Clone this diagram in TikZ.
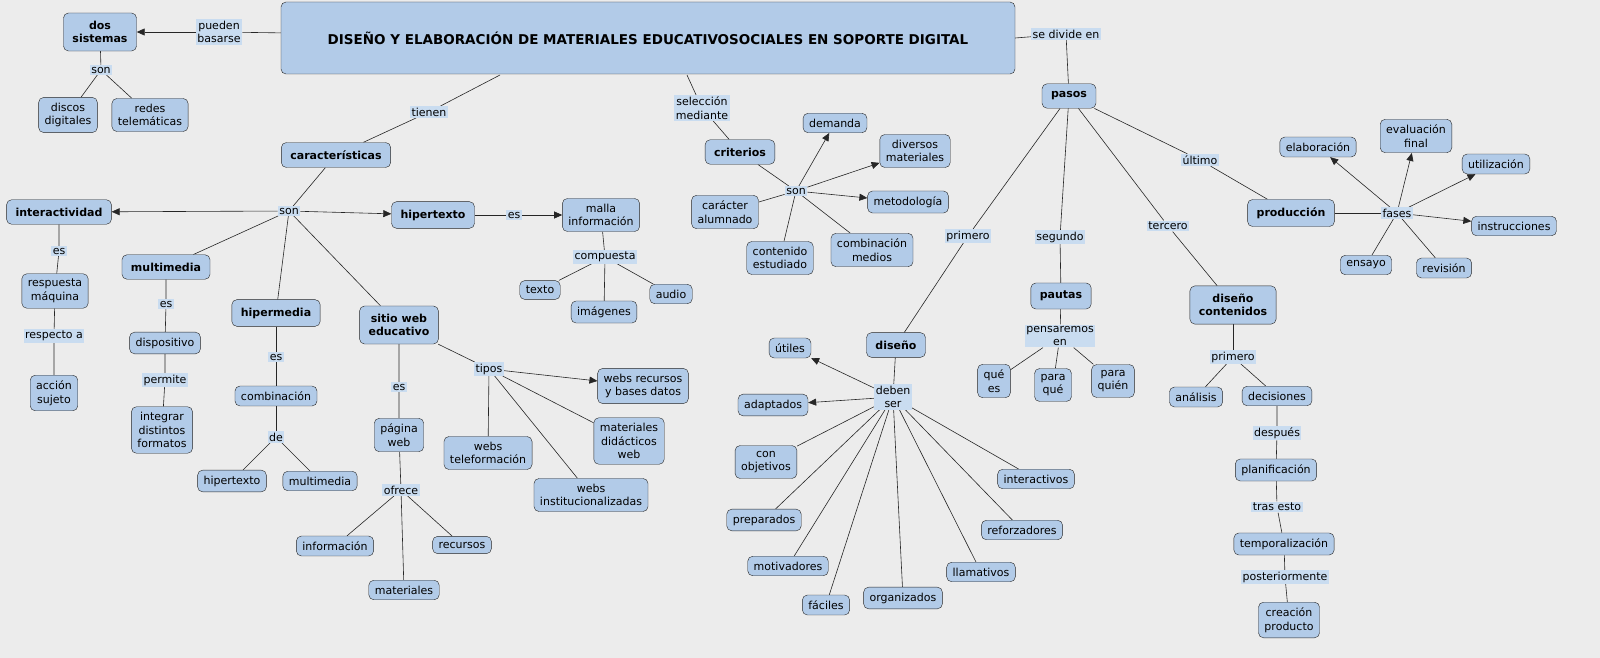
\documentclass[tikz,border=0pt]{standalone}
\usepackage{fontspec}
\setmainfont{DejaVu Sans}
\usetikzlibrary{backgrounds,arrows.meta}
\definecolor{nb}{HTML}{B2CBE8}
\definecolor{lb}{HTML}{C9DCF0}
\definecolor{bg}{HTML}{ECECEC}
\begin{document}
\begin{tikzpicture}[x=1pt,y=-1pt,
 cn/.style={draw=black!85,fill=nb,rounded corners=5pt,align=center,font=\fontsize{11}{13.5}\selectfont,inner xsep=6pt,inner ysep=5.5pt},
 cb/.style={cn,font=\fontsize{11}{13.5}\selectfont\bfseries,inner xsep=9pt,inner ysep=8pt},
 lab/.style={fill=lb,inner sep=1.5pt,align=center,font=\fontsize{11}{13.5}\selectfont},
 ln/.style={draw=black!85,line width=0.6pt},
 ar/.style={ln,-{Triangle[length=8pt,width=7pt]}}]
\useasboundingbox (0,0) rectangle (1600,658);
% main
\node[cb,minimum width=734,minimum height=72,font=\fontsize{13.5}{16}\selectfont\bfseries] (main) at (648,38) {DISEÑO Y ELABORACIÓN DE MATERIALES EDUCATIVOSOCIALES EN SOPORTE DIGITAL};
\node[cb] (dos) at (100,32) {dos\\sistemas};
\node[lab] (pb) at (219,32) {pueden\\basarse};
\node[lab] (son1) at (101,70) {son};
\node[cn] (discos) at (68,115) {discos\\digitales};
\node[cn] (redes) at (150,115) {redes\\telemáticas};
\node[lab] (sde) at (1066,34) {se divide en};
\node[cb] (pasos) at (1069,96) {pasos};
\node[lab] (tienen) at (429,112) {tienen};
\node[cb] (car) at (336,155) {características};
\node[lab] (sel) at (702,108) {selección\\mediante};
\node[cb] (crit) at (740,152) {criterios};
\node[lab] (son2) at (796,191) {son};
\node[cn] (dem) at (835,123) {demanda};
\node[cn] (div) at (915,151) {diversos\\materiales};
\node[cn] (met) at (908,202) {metodología};
\node[cn] (comb) at (872,250) {combinación\\medios};
\node[cn] (cont) at (780,258) {contenido\\estudiado};
\node[cn] (cara) at (725,212) {carácter\\alumnado};
\node[lab] (son3) at (289,211) {son};
\node[cb] (inter) at (59,212) {interactividad};
\node[cb] (hip) at (433,215) {hipertexto};
\node[cb] (multi) at (166,267) {multimedia};
\node[cb] (hiperm) at (276,313) {hipermedia};
\node[cb] (sitio) at (399,325) {sitio web\\educativo};
\node[lab] (es1) at (59,251) {es};
\node[cn] (resp) at (55,291) {respuesta\\máquina};
\node[lab] (resa) at (54,336) {respecto a};
\node[cn] (acc) at (54,393) {acción\\sujeto};
\node[lab] (es2) at (166,304) {es};
\node[cn] (disp) at (165,343) {dispositivo};
\node[lab] (perm) at (165,380) {permite};
\node[cn] (integ) at (162,430) {integrar\\distintos\\formatos};
\node[lab] (es3) at (276,357) {es};
\node[cn] (combi) at (276,396) {combinación};
\node[lab] (de) at (276,437) {de};
\node[cn] (hipt2) at (232,481) {hipertexto};
\node[cn] (mult2) at (320,481) {multimedia};
\node[lab] (es4) at (399,387) {es};
\node[cn] (pag) at (399,435) {página\\web};
\node[lab] (ofr) at (401,490) {ofrece};
\node[cn] (info) at (335,546) {información};
\node[cn] (recu) at (462,545) {recursos};
\node[cn] (mate) at (404,590) {materiales};
\node[lab] (tipos) at (489,369) {tipos};
\node[cn] (wrb) at (643,386) {webs recursos\\y bases datos};
\node[cn] (mdw) at (629,441) {materiales\\didácticos\\web};
\node[cn] (wtf) at (488,453) {webs\\teleformación};
\node[cn] (winst) at (591,495) {webs\\institucionalizadas};
\node[lab] (es5) at (514,215) {es};
\node[cn] (malla) at (601,215) {malla\\información};
\node[lab] (comp) at (605,257) {compuesta};
\node[cn] (texto) at (540,290) {texto};
\node[cn] (img) at (604,312) {imágenes};
\node[cn] (audio) at (671,294) {audio};
% pasos
\node[lab] (pri) at (968,236) {primero};
\node[lab] (seg) at (1060,237) {segundo};
\node[lab] (ter) at (1168,226) {tercero};
\node[lab] (ult) at (1200,160) {último};
\node[cb] (dis) at (896,345) {diseño};
\node[cb] (pau) at (1061,296) {pautas};
\node[cb] (dc) at (1233,305) {diseño\\contenidos};
\node[cb] (prod) at (1291,213) {producción};
\node[lab] (pen) at (1060,336) {pensaremos\\en};
\node[cn] (que) at (994,381) {qué\\es};
\node[cn] (paq) at (1053,385) {para\\qué};
\node[cn] (paqu) at (1113,381) {para\\quién};
\node[lab] (pri2) at (1233,357) {primero};
\node[cn] (ana) at (1196,397) {análisis};
\node[cn] (dec) at (1277,396) {decisiones};
\node[lab] (des) at (1277,433) {después};
\node[cn] (pla) at (1276,470) {planificación};
\node[lab] (tras) at (1277,507) {tras esto};
\node[cn] (tem) at (1284,544) {temporalización};
\node[lab] (post) at (1285,577) {posteriormente};
\node[cn] (cre) at (1289,620) {creación\\producto};
\node[lab] (fas) at (1397,213) {fases};
\node[cn] (ela) at (1318,147) {elaboración};
\node[cn] (eva) at (1416,136) {evaluación\\final};
\node[cn] (uti) at (1496,164) {utilización};
\node[cn] (ins) at (1514,226) {instrucciones};
\node[cn] (rev) at (1444,268) {revisión};
\node[cn] (ens) at (1366,265) {ensayo};
\node[lab] (deb) at (893,397) {deben\\ser};
\node[cn] (utiles) at (790,348) {útiles};
\node[cn] (adap) at (773,405) {adaptados};
\node[cn] (conob) at (766,462) {con\\objetivos};
\node[cn] (prep) at (764,520) {preparados};
\node[cn] (mot) at (788,566) {motivadores};
\node[cn] (fac) at (826,605) {fáciles};
\node[cn] (org) at (903,598) {organizados};
\node[cn] (llam) at (981,572) {llamativos};
\node[cn] (ref) at (1022,530) {reforzadores};
\node[cn] (inta) at (1036,479) {interactivos};
\begin{scope}[on background layer]
\fill[bg] (0,0) rectangle (1600,658);
\draw[ln] (main) -- (pb); \draw[ar] (pb) -- (dos);
\draw[ln] (dos) -- (son1); \draw[ln] (son1) -- (discos); \draw[ln] (son1) -- (redes);
\draw[ln] (main.east) -- (sde); \draw[ln] (sde) -- (pasos);
\draw[ln] (500,75) -- (tienen); \draw[ln] (tienen) -- (car);
\draw[ln] (687,75) -- (sel); \draw[ln] (sel) -- (crit);
\draw[ln] (crit) -- (son2);
\draw[ar] (son2) -- (dem); \draw[ar] (son2) -- (div); \draw[ar] (son2) -- (met);
\draw[ln] (son2) -- (comb); \draw[ln] (son2) -- (cont); \draw[ln] (son2) -- (cara);
\draw[ln] (car) -- (son3);
\draw[ar] (son3) -- (inter); \draw[ar] (son3) -- (hip);
\draw[ln] (son3) -- (multi); \draw[ln] (son3) -- (hiperm); \draw[ln] (son3) -- (sitio);
\draw[ln] (inter) -- (es1) -- (resp) -- (resa) -- (acc);
\draw[ln] (multi) -- (es2) -- (disp) -- (perm) -- (integ);
\draw[ln] (hiperm) -- (es3) -- (combi) -- (de);
\draw[ln] (de) -- (hipt2); \draw[ln] (de) -- (mult2);
\draw[ln] (sitio) -- (es4) -- (pag) -- (ofr);
\draw[ln] (ofr) -- (info); \draw[ln] (ofr) -- (recu); \draw[ln] (ofr) -- (mate);
\draw[ln] (sitio) -- (tipos); \draw[ar] (tipos) -- (wrb);
\draw[ln] (tipos) -- (mdw); \draw[ln] (tipos) -- (wtf); \draw[ln] (tipos) -- (winst);
\draw[ln] (hip) -- (es5); \draw[ar] (es5) -- (malla);
\draw[ln] (malla) -- (comp);
\draw[ln] (comp) -- (texto); \draw[ln] (comp) -- (img); \draw[ln] (comp) -- (audio);
\draw[ln] (pasos) -- (pri) -- (dis);
\draw[ln] (pasos) -- (seg) -- (pau);
\draw[ln] (pasos) -- (ter) -- (dc);
\draw[ln] (pasos) -- (ult) -- (prod);
\draw[ln] (pau) -- (pen);
\draw[ln] (pen) -- (que); \draw[ln] (pen) -- (paq); \draw[ln] (pen) -- (paqu);
\draw[ln] (dc) -- (pri2); \draw[ln] (pri2) -- (ana); \draw[ln] (pri2) -- (dec);
\draw[ln] (dec) -- (des) -- (pla) -- (tras) -- (tem) -- (post) -- (cre);
\draw[ln] (prod) -- (fas);
\draw[ar] (fas) -- (ela); \draw[ar] (fas) -- (eva); \draw[ar] (fas) -- (uti); \draw[ar] (fas) -- (ins);
\draw[ln] (fas) -- (rev); \draw[ln] (fas) -- (ens);
\draw[ln] (dis) -- (deb);
\draw[ar] (deb) -- (utiles); \draw[ar] (deb) -- (adap);
\foreach \t in {conob,prep,mot,fac,org,llam,ref,inta} \draw[ln] (deb) -- (\t);
\end{scope}
\end{tikzpicture}
\end{document}
